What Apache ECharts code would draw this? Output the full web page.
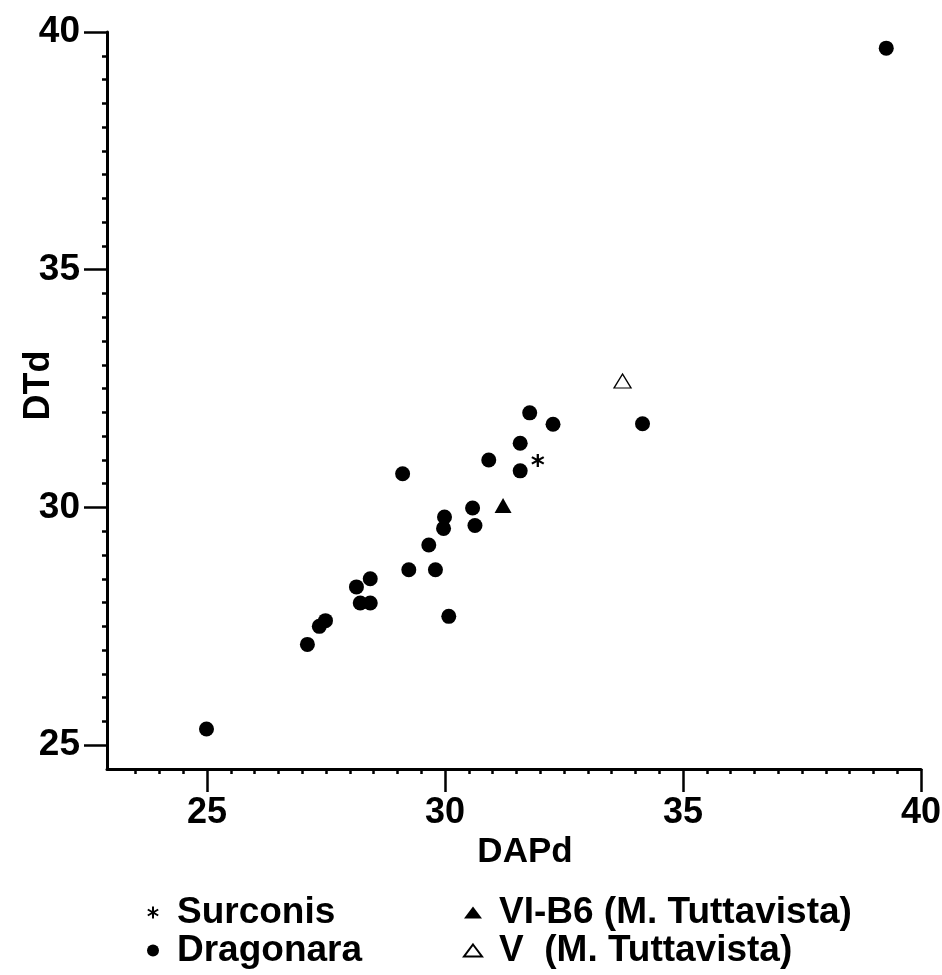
<!DOCTYPE html>
<html><head><meta charset="utf-8">
<script src="https://cdn.jsdelivr.net/npm/echarts@6/dist/echarts.min.js"></script>
<style>html,body{margin:0;padding:0;background:#fff}#c{width:942px;height:975px}</style>
</head><body><div id="c"></div>
<script>
// ---- data ----
const xMajorTicks = [25, 30, 35, 40];
const yMajorTicks = [25, 30, 35, 40];
const xRange = [22.9, 40];
const yRange = [24.5, 40];
const seriesNames = ['Surconis', 'Dragonara', 'VI-B6 (M. Tuttavista)', 'V  (M. Tuttavista)'];
const surconis = [[31.95, 30.99]];
const dragonara = [
  [39.27, 39.66], [34.15, 31.76], [31.78, 31.99], [32.27, 31.75], [31.58, 31.35],
  [31.58, 30.77], [30.92, 31.00], [29.11, 30.71], [30.58, 29.99], [30.63, 29.62],
  [29.99, 29.80], [29.97, 29.56], [29.66, 29.21], [29.24, 28.69], [29.80, 28.69],
  [28.43, 28.50], [28.14, 28.33], [28.22, 27.99], [28.43, 27.99], [30.08, 27.71],
  [27.49, 27.62], [27.36, 27.50], [27.11, 27.12], [24.99, 25.34]
];
const vib6 = [[31.22, 30.04]];
const vTutta = [[33.73, 32.66]];

// minor tick positions every 0.5
const xMinorTicks = [];
for (let v = 23.5; v < 40; v += 0.5) xMinorTicks.push(v);
const yMinorTicks = [];
for (let v = 25; v < 40; v += 0.5) yMinorTicks.push(v);

const asterisk = 'path://M-1 -6L1 -6L1 6L-1 6Z M-5.696 -2.134L-4.696 -3.866L5.696 2.134L4.696 3.866Z M4.696 -3.866L5.696 -2.134L-4.696 3.866L-5.696 2.134Z';
const FONT = "'Liberation Sans', Arial, Helvetica, sans-serif";

const chart = echarts.init(document.getElementById('c'), null, {renderer: 'canvas'});
const axisCommon = {
  type: 'value',
  splitLine: {show: false},
  axisLine: {show: true, onZero: false, lineStyle: {color: '#000', width: 3}},
};
chart.setOption({
  backgroundColor: '#fff',
  animation: false,
  grid: {left: 107, right: 21, top: 32, bottom: 206, containLabel: false, outerBoundsMode: 'none'},
  xAxis: [
    Object.assign({}, axisCommon, {
      min: xRange[0], max: xRange[1], position: 'bottom',
      name: 'DAPd', nameLocation: 'middle', nameGap: 66, nameMoveOverlap: false,
      nameTextStyle: {fontFamily: FONT, fontWeight: 'bold', fontSize: 35, color: '#000', padding: [0, 0, 0, 22]},
      axisTick: {show: true, length: 23, customValues: xMajorTicks, lineStyle: {color: '#000', width: 2.5}},
      axisLabel: {show: true, customValues: xMajorTicks, margin: 26, fontFamily: FONT, fontWeight: 'bold', fontSize: 36, color: '#000'}
    }),
    Object.assign({}, axisCommon, {
      min: xRange[0], max: xRange[1], position: 'bottom',
      axisLine: {show: false},
      axisTick: {show: true, length: 5, customValues: xMinorTicks, lineStyle: {color: '#000', width: 2.5}},
      axisLabel: {show: false}
    })
  ],
  yAxis: [
    Object.assign({}, axisCommon, {
      min: yRange[0], max: yRange[1], position: 'left',
      name: 'DTd', nameLocation: 'middle', nameGap: 50, nameMoveOverlap: false,
      nameTextStyle: {fontFamily: FONT, fontWeight: 'bold', fontSize: 36, color: '#000', padding: [0, 0, 0, 30]},
      axisTick: {show: true, length: 23, customValues: yMajorTicks, lineStyle: {color: '#000', width: 2.5}},
      axisLabel: {show: true, customValues: yMajorTicks, margin: 27, fontFamily: FONT, fontWeight: 'bold', fontSize: 37, color: '#000'}
    }),
    Object.assign({}, axisCommon, {
      min: yRange[0], max: yRange[1], position: 'left',
      axisLine: {show: false},
      axisTick: {show: true, length: 5, customValues: yMinorTicks, lineStyle: {color: '#000', width: 2.5}},
      axisLabel: {show: false}
    })
  ],
  legend: [
    {
      orient: 'vertical', left: 147, top: 894, padding: 0, itemWidth: 12, itemHeight: 12, itemGap: 1,
      data: [seriesNames[0], seriesNames[1]],
      textStyle: {fontFamily: FONT, fontWeight: 'bold', fontSize: 37, color: '#000', lineHeight: 37, padding: [0, 0, 0, 13]},
      selectedMode: false
    },
    {
      orient: 'vertical', left: 463, top: 894, padding: 0, itemWidth: 18, itemHeight: 12, itemGap: 1,
      symbolKeepAspect: false,
      data: [seriesNames[2], seriesNames[3]],
      textStyle: {fontFamily: FONT, fontWeight: 'bold', fontSize: 37, color: '#000', lineHeight: 37, padding: [0, 0, 0, 12]},
      selectedMode: false
    }
  ],
  series: [
    {name: seriesNames[0], type: 'scatter', data: surconis, symbol: asterisk, symbolSize: 13,
     itemStyle: {color: '#000', opacity: 1}, xAxisIndex: 0, yAxisIndex: 0},
    {name: seriesNames[1], type: 'scatter', data: dragonara, symbol: 'circle', symbolSize: 15,
     itemStyle: {color: '#000', opacity: 1}, xAxisIndex: 0, yAxisIndex: 0},
    {name: seriesNames[2], type: 'scatter', data: vib6, symbol: 'triangle', symbolSize: [17, 15],
     itemStyle: {color: '#000', opacity: 1}, xAxisIndex: 0, yAxisIndex: 0},
    {name: seriesNames[3], type: 'scatter', data: vTutta, symbol: 'triangle', symbolSize: [17, 14],
     itemStyle: {color: '#fff', borderColor: '#000', borderWidth: 1.3, opacity: 1}, xAxisIndex: 0, yAxisIndex: 0}
  ]
});
</script>
</body></html>
